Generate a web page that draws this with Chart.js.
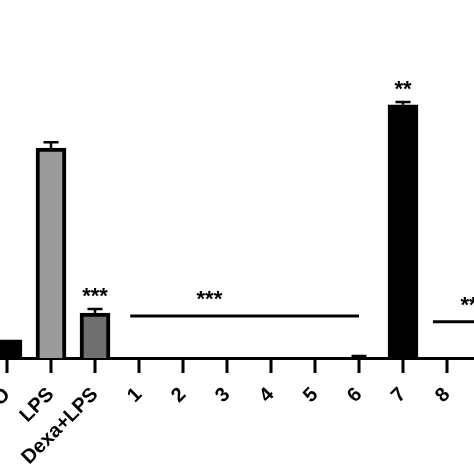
<!DOCTYPE html>
<html>
<head>
<meta charset="utf-8">
<script src="https://cdn.jsdelivr.net/npm/chart.js@4.4.0/dist/chart.umd.min.js"></script>
<style>
  html, body { margin:0; padding:0; background:#fff; overflow:hidden; }
  #wrap { position:absolute; left:-15px; top:0; width:528px; height:474px; }
</style>
</head>
<body>
<div id="wrap"><canvas id="chart" width="528" height="474"></canvas></div>
<script>
// Data
const labels = ['DMSO', 'LPS', 'Dexa+LPS', '1', '2', '3', '4', '5', '6', '7', '8', '9'];
const values = [3.1, 36.0, 7.7, 0, 0, 0, 0, 0, 0.05, 43.4, 0, 0];
const errors = [0, 1.0, 0.7, 0, 0, 0, 0, 0, 0.3, 0.5, 0, 0];
const stars  = ['', '', '***', '', '', '', '', '', '', '**', '', ''];
const fills  = ['#000', '#9b9b9b', '#6f6f6f', '#000', '#000', '#000', '#000', '#000', '#000', '#000', '#000', '#000'];
// group significance bars: from/to/label position in category units, height in data units
const groupFrom  = [2.8, 9.68];
const groupTo    = [8.0, 11.6];
const groupMid   = [4.6, 10.5];
const groupY     = [7.2, 6.2];
const groupStars = ['***', '**'];

const starFont = 'bold 22px "Liberation Sans", Arial, sans-serif';

// error bars, tick marks and stars
const extras = {
  id: 'extras',
  afterDatasetsDraw(chart){
    const ctx = chart.ctx, x = chart.scales.x, y = chart.scales.y;
    const meta = chart.getDatasetMeta(0);
    ctx.save();
    ctx.strokeStyle = '#000'; ctx.fillStyle = '#000';
    // tick marks at category centres
    ctx.lineWidth = 3;
    ctx.beginPath();
    labels.forEach((l, i) => {
      const px = x.getPixelForTick(i);
      ctx.moveTo(px, x.top);
      ctx.lineTo(px, x.top + 15);
    });
    ctx.stroke();
    meta.data.forEach((bar, i) => {
      let capY = y.getPixelForValue(values[i]);
      if(errors[i] > 0){
        capY = y.getPixelForValue(values[i] + errors[i]);
        ctx.lineWidth = 2.5;
        ctx.beginPath();
        ctx.moveTo(bar.x, y.getPixelForValue(values[i]));
        ctx.lineTo(bar.x, capY);
        ctx.moveTo(bar.x - 7.5, capY);
        ctx.lineTo(bar.x + 7.5, capY);
        ctx.stroke();
      }
      if(stars[i]){
        ctx.font = starFont; ctx.textAlign = 'center'; ctx.textBaseline = 'alphabetic';
        ctx.fillText(stars[i], bar.x, capY - 6);
      }
    });
    groupFrom.forEach((f, k) => {
      const py = y.getPixelForValue(groupY[k]);
      ctx.lineWidth = 3;
      ctx.beginPath();
      ctx.moveTo(x.getPixelForValue(f), py);
      ctx.lineTo(x.getPixelForValue(groupTo[k]), py);
      ctx.stroke();
      ctx.font = starFont; ctx.textAlign = 'center'; ctx.textBaseline = 'alphabetic';
      ctx.fillText(groupStars[k], x.getPixelForValue(groupMid[k]), py - 10);
    });
    ctx.restore();
  }
};

new Chart(document.getElementById('chart'), {
  type: 'bar',
  data: {
    labels,
    datasets: [{
      data: values,
      backgroundColor: fills,
      borderColor: '#000',
      borderWidth: 4,
      borderSkipped: 'bottom',
      barThickness: 30
    }]
  },
  options: {
    responsive: false,
    animation: false,
    layout: { padding: { top: 8, left: 0, right: 0, bottom: 0 } },
    plugins: { legend: { display: false }, tooltip: { enabled: false } },
    scales: {
      x: {
        grid: { display: false },
        border: { display: true, color: '#000', width: 3 },
        ticks: {
          color: '#000', minRotation: 45, maxRotation: 45, autoSkip: false, padding: 17,
          font: { family: '"Liberation Sans", Arial, sans-serif', size: 20, weight: 'bold' }
        },
        afterFit(s){ s.paddingLeft = 0; s.paddingRight = 0; s.height = 116; }
      },
      y: {
        display: false, min: 0, max: 60
      }
    }
  },
  plugins: [extras]
});
</script>
</body>
</html>
